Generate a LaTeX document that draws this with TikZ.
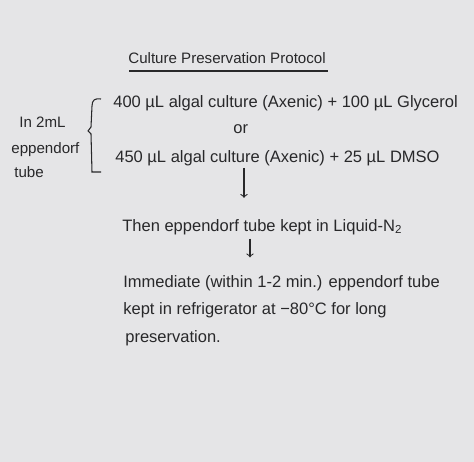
\documentclass[tikz,border=0pt]{standalone}
\usepackage{fontspec}
\setmainfont{Liberation Sans}
\definecolor{paper}{RGB}{229,229,231}
\definecolor{ink}{RGB}{40,40,42}
\tikzset{
  note/.style={anchor=west, inner sep=0pt, text=ink, font=\fontsize{9.4}{11}\selectfont},
  flow/.style={->, draw=ink, line width=0.6pt}
}
\begin{document}
\begin{tikzpicture}[x=0.02cm, y=-0.02cm]
\fill[paper] (0,0) rectangle (474,462);
\useasboundingbox (0,0) rectangle (474,462);

\node[note, font=\fontsize{8.6}{10}\selectfont] (title) at (128,58) {Culture Preservation Protocol};
\draw[ink, line width=0.7pt] (title.south west) ++(1,7) -- ++(199,0);

\node[note, font=\fontsize{8.6}{10}\selectfont] (in) at (19,122) {In 2mL};
\node[note, font=\fontsize{8.6}{10}\selectfont] (ep) at (11,150) {eppendorf};
\node[note, font=\fontsize{8.6}{10}\selectfont] (tb) at (14,172) {tube};
\draw[ink, line width=0.6pt] (101,99) .. controls (95,98) and (92,100) .. (92,106) -- (91,127) -- (88,131) -- (91,134) -- (92,172) -- (101,172);

\node[note] (glyc) at (113,103) {400 µL algal culture (Axenic) + 100 µL Glycerol};
\node[note] (or) at (233,129) {or};
\node[note] (dmso) at (115,158) {450 µL algal culture (Axenic) + 25 µL DMSO};

\node[note] (ln2) at (122,227) {Then eppendorf tube kept in Liquid-N\textsubscript{2}};

\node[note] (fr1) at (123,283) {Immediate (within 1-2 min.) eppendorf tube};
\node[note] (fr2) at (123,310) {kept in refrigerator at −80°C for long};
\node[note] (fr3) at (125,338) {preservation.};

\draw[flow, shorten <=1pt, shorten >=12pt] (dmso.south -| 244,0) -- (ln2.north -| 244,0);
\draw[flow, shorten <=2pt, shorten >=10pt] (ln2.south -| 250,0) -- (fr1.north -| 250,0);
\end{tikzpicture}
\end{document}
